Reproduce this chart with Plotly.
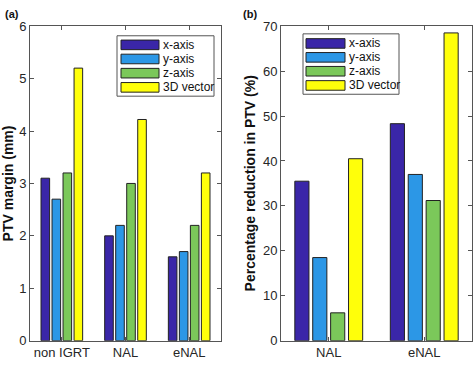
import plotly.graph_objects as go

# ---- data ----
series_names = ["x-axis", "y-axis", "z-axis", "3D vector"]
series_colors = ["#3A26A8", "#2C97E6", "#7BC85A", "#FFFF0A"]

cats_a = ["non IGRT", "NAL", "eNAL"]
margin_x = [3.1, 2.0, 1.6]
margin_y = [2.7, 2.2, 1.7]
margin_z = [3.2, 3.0, 2.2]
margin_3d = [5.2, 4.22, 3.2]

cats_b = ["NAL", "eNAL"]
red_x = [35.5, 48.3]
red_y = [18.5, 37.0]
red_z = [6.2, 31.2]
red_3d = [40.5, 68.5]

vals_a = [margin_x, margin_y, margin_z, margin_3d]
vals_b = [red_x, red_y, red_z, red_3d]

W, H = 474, 365
def px(x):
    return x / W
def py(y):
    return 1 - y / H

fig = go.Figure()

pitch_a, width_a = 0.173, 0.135
pitch_b, width_b = 0.1875, 0.148
for i, (name, col) in enumerate(zip(series_names, series_colors)):
    fig.add_trace(go.Bar(
        x=cats_a, y=vals_a[i], name=name, marker_color=col,
        marker_line=dict(color="#222222", width=1),
        width=width_a, offset=(i - 2) * pitch_a + (pitch_a - width_a) / 2,
        xaxis="x", yaxis="y", showlegend=False))
    fig.add_trace(go.Bar(
        x=cats_b, y=vals_b[i], name=name, marker_color=col,
        marker_line=dict(color="#222222", width=1),
        width=width_b, offset=(i - 2) * pitch_b + (pitch_b - width_b) / 2,
        xaxis="x2", yaxis="y2", showlegend=False))

axis_common = dict(
    showline=True, linecolor="#555555", linewidth=1, mirror="ticks",
    ticks="inside", ticklen=4, tickcolor="#555555", showgrid=False,
    zeroline=False, tickfont=dict(family="Liberation Sans, Arial", size=13, color="#262626"),
)

fig.update_layout(
    width=W, height=H, margin=dict(l=0, r=0, t=0, b=0),
    plot_bgcolor="white", paper_bgcolor="white",
    barmode="overlay",
    xaxis=dict(domain=[px(30), px(221)], range=[-0.5, 2.5], type="category", **axis_common),
    yaxis=dict(domain=[py(348), py(20)], range=[0, 6], dtick=1, anchor="x", **axis_common),
    xaxis2=dict(domain=[px(281), px(472)], range=[-0.5, 1.5], type="category", anchor="y2", **axis_common),
    yaxis2=dict(domain=[py(348), py(20)], range=[0, 70], dtick=10, anchor="x2", **axis_common),
)

ann = []
shapes = []
font_b = dict(family="Liberation Sans, Arial", size=14, color="#111111")
ann.append(dict(x=px(8), y=py(184), xref="paper", yref="paper", text="<b>PTV margin (mm)</b>",
                textangle=-90, showarrow=False, font=font_b, xanchor="center", yanchor="middle"))
ann.append(dict(x=px(250), y=py(184), xref="paper", yref="paper", text="<b>Percentage reduction in PTV (%)</b>",
                textangle=-90, showarrow=False, font=font_b, xanchor="center", yanchor="middle"))
ann.append(dict(x=px(3), y=py(7), xref="paper", yref="paper", text="<b>(a)</b>", showarrow=False,
                font=dict(family="Liberation Sans, Arial", size=11, color="#111111"), xanchor="left", yanchor="middle"))
ann.append(dict(x=px(241), y=py(7), xref="paper", yref="paper", text="<b>(b)</b>", showarrow=False,
                font=dict(family="Liberation Sans, Arial", size=11, color="#111111"), xanchor="left", yanchor="middle"))

def legend(box, sw_x0, sw_x1, text_x, rows):
    x0, y0, x1, y1 = box
    shapes.append(dict(type="rect", xref="paper", yref="paper", x0=px(x0), x1=px(x1), y0=py(y1), y1=py(y0),
                       line=dict(color="#555555", width=1), fillcolor="white"))
    for name, col, yc in zip(series_names, series_colors, rows):
        shapes.append(dict(type="rect", xref="paper", yref="paper", x0=px(sw_x0), x1=px(sw_x1),
                           y0=py(yc + 5), y1=py(yc - 5), line=dict(color="#222222", width=1), fillcolor=col))
        ann.append(dict(x=px(text_x), y=py(yc), xref="paper", yref="paper", text=name, showarrow=False,
                        xanchor="left", yanchor="middle",
                        font=dict(family="Liberation Sans, Arial", size=12, color="#111111")))

legend((117, 30, 214, 93), 121, 159, 161, [39.5, 54.2, 69, 83.8])
legend((303, 28, 399, 91), 306, 345, 347, [38, 52.5, 67, 81.8])

fig.update_layout(annotations=ann, shapes=shapes)
fig.write_html("out.html", config={"displayModeBar": False},
               post_script="document.body.style.margin='0';document.body.style.overflow='hidden';")
